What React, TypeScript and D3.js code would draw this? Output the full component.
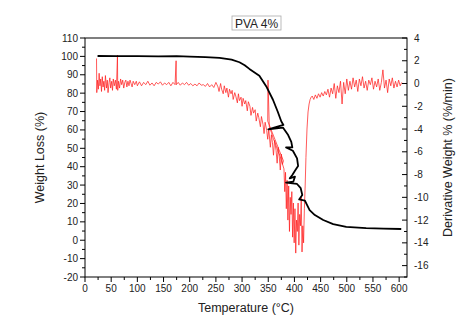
import React from "react";
import * as d3 from "d3";

const W = 474;
const H = 333;

// TGA (weight %) vs temperature (order matters: temperature reverses)
const tgaPoints: [number, number][] = [
  [24, 100.2], [60, 100.1], [100, 100.1], [140, 100], [175, 100.1], [200, 99.9], [230, 99.6], [257, 99.2],
  [280, 98.2], [295, 96.8], [305, 95.2], [314, 93.2], [333, 89.5], [346, 83.8], [359, 76.4], [368, 70],
  [375, 64.6], [379, 62.7], [350, 60.3], [378, 61.3], [388, 57.2], [394, 53.5], [396, 50.5], [384, 50.5],
  [397, 48.7], [405, 44.5], [407, 40.4], [401, 37.8], [396, 35.5], [391, 33.7], [401, 34.6], [398, 31.9],
  [384, 31.3], [405, 30.6], [412, 28.3], [415, 24.6], [409, 22.2], [420, 21.5], [424, 19.2], [429, 16.4],
  [439, 13.7], [455, 11], [474, 8.8], [499, 7.3], [537, 6.6], [570, 6.3], [604, 6.1],
];

// DTG (derivative weight %/min) vs temperature
const dtgStart: [number, number][] = [
  [22, 2.2], [22.5, -0.8], [24, 0.3], [25.5, -0.5], [27, 0.9], [28.5, -0.2], [30, 0.4], [31.5, -0.7], [33, 0.6],
  [34.5, -0.3], [36, 0.2], [37.5, -0.6], [39, 0.7], [41, -0.4], [42.5, 0.3], [44, -0.8], [46, 0.1], [47.5, 0.5],
  [49, -0.4], [51, 0.2], [52.5, -0.6], [54, 0.4], [56, -0.2], [58, 0.3], [60, -0.5], [62, 2.5], [62.5, -0.6],
  [64, 0.2], [66, -0.4], [68, 0.4], [70, -0.1], [72, 0.3], [74, -0.4], [76, 0.1], [78, 0.3], [80, -0.3],
  [82, 0.2], [84, -0.2], [86, 0.3], [88, 0.0], [90, -0.3], [92, 0.2], [95, -0.1], [98, 0.2], [100, -0.2],
];
const dtgPlateau: [number, number][] = [
  [104, 0.15], [108, -0.2], [112, 0.1], [116, -0.1], [120, 0.2], [124, -0.15], [128, 0.05], [132, -0.2],
  [136, 0.1], [140, -0.05], [144, 0.15], [148, -0.15], [152, 0.05], [156, -0.1], [160, 0.1], [164, -0.2],
  [168, 0.1], [172, -0.1], [174, 2.0], [174.5, -0.1], [178, 0.1], [182, -0.15], [186, 0.05], [190, -0.1],
  [194, 0.1], [198, -0.15], [202, 0.0], [206, -0.2], [210, -0.05], [214, -0.2], [218, 0.05], [222, -0.15],
  [226, -0.1], [230, -0.25], [234, 0.0], [238, -0.3], [242, -0.1], [246, -0.35], [250, 0.1],
];
const dtgDecline: [number, number][] = [
  [254, -0.3], [256, -0.7], [259, 0.0], [261, -0.5], [264, -0.9], [266, -0.2], [269, -0.8], [271, -0.4],
  [274, -1.2], [276, -0.5], [279, -0.9], [281, -0.6], [283, -1.4], [286, -0.8], [288, -1.1], [291, -1.7],
  [293, -0.9], [295, -1.5], [298, -1.2], [300, -2.0], [302, -1.3], [305, -1.8], [307, -1.5], [310, -2.4],
  [312, -1.6], [315, -2.0], [317, -2.8], [320, -2.1], [322, -2.6], [325, -2.3], [327, -3.3], [330, -2.6],
  [332, -3.0], [335, -3.8], [337, -2.9], [340, -3.6], [342, -4.4], [344, -3.4], [347, -4.1], [349, -4.9],
  [351, -4.0], [354, -5.6], [356, -4.5], [358, -5.2], [360, -6.3], [362, -5.0], [365, -5.9], [367, -7.0],
  [369, -5.6], [371, -6.4], [373, -7.6], [375, -6.2], [377, -7.1], [379, -6.8],
];
const dtgReversal: [number, number][] = [
  [349, -3.3], [349.5, 0.3], [352, -3.8], [356, -4.3], [360, -4.9], [364, -5.3], [368, -5.9], [372, -6.3],
  [376, -6.9], [380, -7.5],
];
const dtgPeak: [number, number][] = [
  [381.5, -9.5], [383, -7.8], [384.5, -11], [386, -8.5], [387.5, -12], [389, -9], [390.5, -13], [392, -10],
  [393.5, -11.5], [395, -9.5], [396.5, -13.5], [398, -10.5], [399.5, -14], [401, -11], [402.5, -14.9],
  [404, -12], [405.5, -13], [407, -10.5], [408.5, -14.2], [410, -11.5], [411.5, -12.5], [413, -10],
  [414.5, -14.8], [416, -12.5], [417.5, -14], [419, -11], [420.5, -9], [422, -6.5], [424, -4], [426, -2.5],
  [428, -1.8], [430, -1.4], [432, -1.2],
];
const dtgEnd: [number, number][] = [
  [434, -1.1], [437, -1.4], [440, -1.0], [443, -1.3], [446, -0.9], [449, -1.2], [452, -0.8], [455, -1.1],
  [458, -0.7], [461, -1.0], [464, -0.5], [467, -1.2], [470, -0.4], [473, -0.9], [476, 0.0], [479, -1.3],
  [482, -0.2], [485, -0.8], [488, 0.2], [491, -1.8], [494, 0.1], [497, -0.9], [500, 0.4], [503, -0.6],
  [506, 0.2], [509, -0.5], [512, 0.5], [515, -0.3], [518, 0.3], [521, -0.7], [524, 0.4], [527, -0.2],
  [530, 0.6], [533, -0.4], [536, 0.2], [539, -0.6], [542, 0.3], [545, -0.1], [548, 0.5], [551, -0.5],
  [554, 0.2], [557, -0.3], [560, 0.4], [563, -0.6], [566, 0.1], [569, 1.2], [572, -0.4], [575, 0.3],
  [578, -0.8], [581, 0.4], [584, -0.2], [587, 0.5], [590, -0.4], [593, 0.2], [596, -0.3], [599, 0.3],
  [602, -0.2], [605, 0.1],
];

const xTicks = [0, 50, 100, 150, 200, 250, 300, 350, 400, 450, 500, 550, 600];
const yLeftTicks = [-20, -10, 0, 10, 20, 30, 40, 50, 60, 70, 80, 90, 100, 110];
const yRightTicks = [-16, -14, -12, -10, -8, -6, -4, -2, 0, 2, 4];

const title = "PVA 4%";
const xLabel = "Temperature (°C)";
const yLeftLabel = "Weight Loss (%)";
const yRightLabel = "Derivative Weight % (%/min)";

export default function App() {
  const L = 85, R = 407, T = 38, B = 277;
  const x = d3.scaleLinear().domain([0, 615]).range([L, R]);
  const yL = d3.scaleLinear().domain([-20, 110]).range([B, T]);
  const yR = d3.scaleLinear().domain([-17, 4]).range([B, T]);

  const dtg = [...dtgStart, ...dtgPlateau, ...dtgDecline, ...dtgReversal, ...dtgPeak, ...dtgEnd];

  const lineL = d3.line<[number, number]>().x(d => x(d[0])).y(d => yL(d[1]));
  const lineR = d3.line<[number, number]>().x(d => x(d[0])).y(d => yR(d[1]));

  const xMinor = d3.range(25, 615, 50);
  const yLMinor = d3.range(-15, 110, 10);
  const yRMinor = d3.range(-17, 4, 2);

  const font = "Liberation Sans, Arial, sans-serif";
  const tc = "#222";

  return (
    <svg width={W} height={H} style={{ position: "absolute", left: 0, top: 0, background: "#fff" }} fontFamily={font}>
      <rect x={0} y={0} width={W} height={H} fill="#fff" />
      <path d={lineR(dtg) || ""} fill="none" stroke="#ff1a1a" strokeWidth={0.8} strokeOpacity={0.9} />
      <path d={lineL(tgaPoints) || ""} fill="none" stroke="#000" strokeWidth={1.8} strokeLinejoin="round" />
      <rect x={L} y={T} width={R - L} height={B - T} fill="none" stroke="#000" strokeWidth={1} />
      {xTicks.map(v => (
        <g key={"x" + v}>
          <line x1={x(v)} x2={x(v)} y1={B} y2={B + 5} stroke="#000" />
          <text x={x(v)} y={B + 15} fontSize={10} textAnchor="middle" fill={tc}>{v}</text>
        </g>
      ))}
      {xMinor.map(v => <line key={"xm" + v} x1={x(v)} x2={x(v)} y1={B} y2={B + 3} stroke="#000" />)}
      {yLeftTicks.map(v => (
        <g key={"yl" + v}>
          <line x1={L - 5} x2={L} y1={yL(v)} y2={yL(v)} stroke="#000" />
          <text x={L - 7} y={yL(v) + 3.5} fontSize={10} textAnchor="end" fill={tc}>{v}</text>
        </g>
      ))}
      {yLMinor.map(v => <line key={"ylm" + v} x1={L - 3} x2={L} y1={yL(v)} y2={yL(v)} stroke="#000" />)}
      {yRightTicks.map(v => (
        <g key={"yr" + v}>
          <line x1={R - 5} x2={R} y1={yR(v)} y2={yR(v)} stroke="#000" />
          <text x={R + 7} y={yR(v) + 3.5} fontSize={10} textAnchor="start" fill={tc}>{v}</text>
        </g>
      ))}
      {yRMinor.map(v => <line key={"yrm" + v} x1={R - 3} x2={R} y1={yR(v)} y2={yR(v)} stroke="#000" />)}
      <text x={(L + R) / 2} y={312} fontSize={12.5} textAnchor="middle" fill={tc}>{xLabel}</text>
      <text transform={`translate(44,${(T + B) / 2}) rotate(-90)`} fontSize={12.5} textAnchor="middle" fill={tc}>{yLeftLabel}</text>
      <text transform={`translate(452,${(T + B) / 2}) rotate(-90)`} fontSize={12.5} textAnchor="middle" fill={tc}>{yRightLabel}</text>
      <rect x={232} y={16} width={49} height={14} fill="#fff" stroke="#aaa" strokeWidth={0.8} />
      <text x={256.5} y={27.5} fontSize={12} textAnchor="middle" fill={tc}>{title}</text>
    </svg>
  );
}
